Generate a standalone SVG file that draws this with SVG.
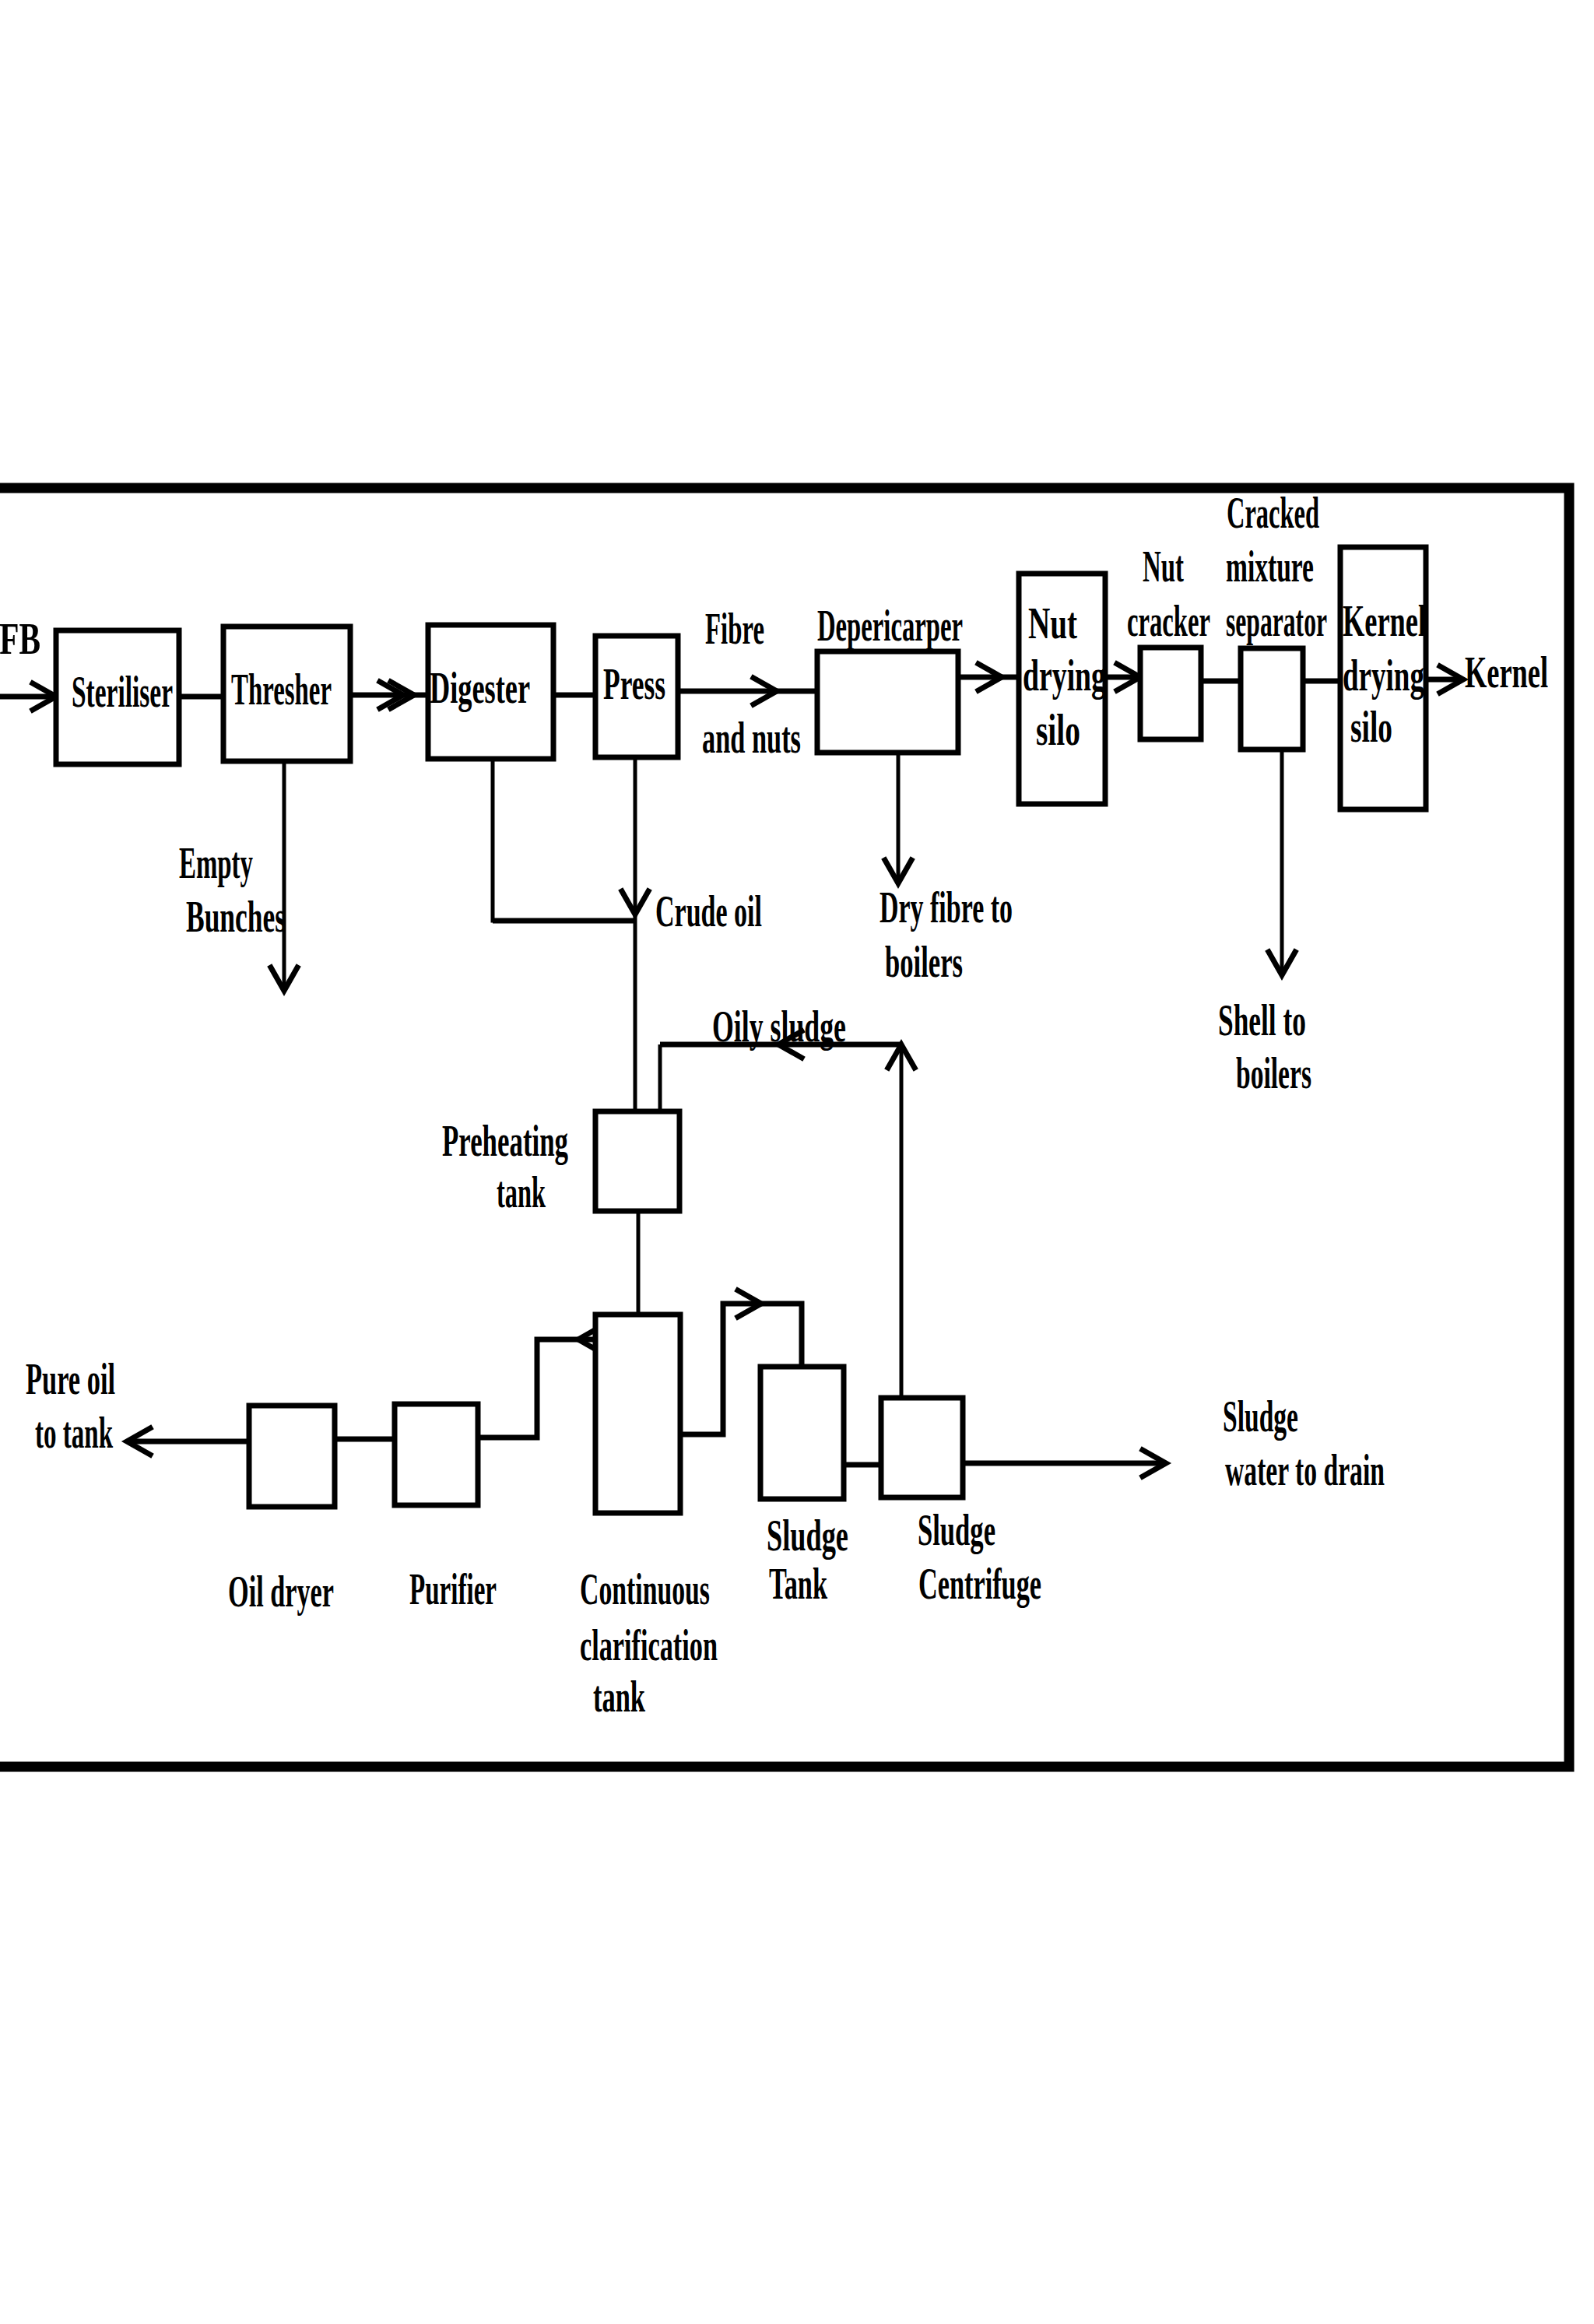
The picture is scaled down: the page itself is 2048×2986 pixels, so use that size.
<svg xmlns="http://www.w3.org/2000/svg" width="2048" height="2986" viewBox="0 0 2048 2986">
<style>
.bx{fill:#fff;stroke:#000;stroke-width:7}
.ln{fill:none;stroke:#000;stroke-width:7;stroke-linejoin:miter}
.vl{fill:none;stroke:#000;stroke-width:5}
.ah{fill:none;stroke:#000;stroke-width:7;stroke-linecap:square}
.bd{fill:none;stroke:#000;stroke-width:13}
text{font-family:"Liberation Serif","Times New Roman",serif;font-size:56px;font-weight:bold;fill:#000}
</style>
<defs>
<path id="ah" class="ah" d="M-30,-17 L0,0 L-30,17"/>
</defs>
<rect width="2048" height="2986" fill="#fff"/>
<path class="bd" d="M0,627 H2016 V2270 H0"/>

<g id="connectors">
<path class="ln" d="M0,895 H72"/><use href="#ah" transform="translate(72,895)"/>
<path class="ln" d="M230,895 H287"/>
<path class="ln" d="M450,893 H550"/><use href="#ah" transform="translate(532,893)"/><use href="#ah" transform="translate(518,893)"/>
<path class="ln" d="M711,893 H765"/>
<path class="ln" d="M871,888 H1050"/><use href="#ah" transform="translate(998,888)"/>
<path class="ln" d="M1231,870 H1309"/><use href="#ah" transform="translate(1287,870)"/>
<path class="ln" d="M1420,870 H1465"/><use href="#ah" transform="translate(1465,870)"/>
<path class="ln" d="M1543,875 H1594"/>
<path class="ln" d="M1674,875 H1722"/>
<path class="ln" d="M1832,873 H1880"/><use href="#ah" transform="translate(1880,873)"/>
<path class="vl" d="M365,978 V1273"/><use href="#ah" transform="translate(365,1273) rotate(90)"/>
<path class="vl" d="M633,975 V1183 H816"/><path class="ln" d="M633,1183 H816"/>
<path class="vl" d="M816,973 V1428"/><use href="#ah" transform="translate(816,1175) rotate(90)"/>
<path class="vl" d="M1154,967 V1135"/><use href="#ah" transform="translate(1154,1135) rotate(90)"/>
<path class="vl" d="M1647,963 V1253"/><use href="#ah" transform="translate(1647,1253) rotate(90)"/>
<path class="vl" d="M1158,1796 V1342"/><path class="ln" d="M1158,1342 H848"/><path class="vl" d="M848,1342 V1428"/>
<use href="#ah" transform="translate(1158,1342) rotate(-90)"/><use href="#ah" transform="translate(1000,1342) rotate(180)"/>
<path class="vl" d="M820,1556 V1689"/>
<path class="ln" d="M765,1721 H690 V1847 H614"/><use href="#ah" transform="translate(743,1721) rotate(180)"/>
<path class="ln" d="M507,1849 H430"/>
<path class="ln" d="M320,1852 H163"/><use href="#ah" transform="translate(163,1852) rotate(180)"/>
<path class="ln" d="M874,1843 H929 V1675 H1030 V1756"/><use href="#ah" transform="translate(978,1675)"/>
<path class="ln" d="M1084,1882 H1132"/>
<path class="ln" d="M1237,1880 H1498"/><use href="#ah" transform="translate(1498,1880)"/>
</g>

<g id="labels">
<text x="-26" y="840" textLength="78" lengthAdjust="spacingAndGlyphs">FFB</text>
<text x="906" y="827" textLength="76" lengthAdjust="spacingAndGlyphs">Fibre</text>
<text x="902" y="967" textLength="127" lengthAdjust="spacingAndGlyphs">and nuts</text>
<text x="230" y="1128" textLength="95" lengthAdjust="spacingAndGlyphs">Empty</text>
<text x="239" y="1197" textLength="128" lengthAdjust="spacingAndGlyphs">Bunches</text>
<text x="842" y="1190" textLength="137" lengthAdjust="spacingAndGlyphs">Crude oil</text>
<text x="1130" y="1185" textLength="171" lengthAdjust="spacingAndGlyphs">Dry fibre to</text>
<text x="1137" y="1255" textLength="100" lengthAdjust="spacingAndGlyphs">boilers</text>
<text x="1565" y="1330" textLength="113" lengthAdjust="spacingAndGlyphs">Shell to</text>
<text x="1588" y="1398" textLength="97" lengthAdjust="spacingAndGlyphs">boilers</text>
<text x="915" y="1338" textLength="172" lengthAdjust="spacingAndGlyphs">Oily sludge</text>
<text x="33" y="1791" textLength="115" lengthAdjust="spacingAndGlyphs">Pure oil</text>
<text x="45" y="1860" textLength="100" lengthAdjust="spacingAndGlyphs">to tank</text>
<text x="1571" y="1839" textLength="97" lengthAdjust="spacingAndGlyphs">Sludge</text>
<text x="1574" y="1908" textLength="205" lengthAdjust="spacingAndGlyphs">water to drain</text>
<text x="1882" y="883" textLength="107" lengthAdjust="spacingAndGlyphs">Kernel</text>
</g>

<g id="steriliser"><rect class="bx" x="72" y="810" width="158" height="172"/>
<text x="92" y="908" textLength="130" lengthAdjust="spacingAndGlyphs">Steriliser</text></g>
<g id="thresher"><rect class="bx" x="287" y="805" width="163" height="173"/>
<text x="297" y="905" textLength="129" lengthAdjust="spacingAndGlyphs">Thresher</text></g>
<g id="digester"><rect class="bx" x="550" y="803" width="161" height="172"/>
<text x="552" y="903" textLength="129" lengthAdjust="spacingAndGlyphs">Digester</text></g>
<g id="press"><rect class="bx" x="765" y="817" width="106" height="156"/>
<text x="775" y="898" textLength="80" lengthAdjust="spacingAndGlyphs">Press</text></g>
<g id="depericarper"><rect class="bx" x="1050" y="837" width="181" height="130"/>
<text x="1050" y="823" textLength="187" lengthAdjust="spacingAndGlyphs">Depericarper</text></g>
<g id="nut-drying-silo"><rect class="bx" x="1309" y="737" width="111" height="296"/>
<text x="1321" y="820" textLength="63" lengthAdjust="spacingAndGlyphs">Nut</text>
<text x="1314" y="887" textLength="107" lengthAdjust="spacingAndGlyphs">drying</text>
<text x="1331" y="957" textLength="57" lengthAdjust="spacingAndGlyphs">silo</text></g>
<g id="nut-cracker"><rect class="bx" x="1465" y="832" width="78" height="118"/>
<text x="1468" y="747" textLength="53" lengthAdjust="spacingAndGlyphs">Nut</text>
<text x="1448" y="817" textLength="107" lengthAdjust="spacingAndGlyphs">cracker</text></g>
<g id="separator"><rect class="bx" x="1594" y="833" width="80" height="130"/>
<text x="1576" y="678" textLength="119" lengthAdjust="spacingAndGlyphs">Cracked</text>
<text x="1575" y="747" textLength="113" lengthAdjust="spacingAndGlyphs">mixture</text>
<text x="1575" y="817" textLength="130" lengthAdjust="spacingAndGlyphs">separator</text></g>
<g id="kernel-drying-silo"><rect class="bx" x="1722" y="703" width="110" height="337"/>
<text x="1725" y="817" textLength="107" lengthAdjust="spacingAndGlyphs">Kernel</text>
<text x="1725" y="887" textLength="105" lengthAdjust="spacingAndGlyphs">drying</text>
<text x="1735" y="953" textLength="54" lengthAdjust="spacingAndGlyphs">silo</text></g>
<g id="preheating-tank"><rect class="bx" x="765" y="1428" width="108" height="128"/>
<text x="568" y="1485" textLength="162" lengthAdjust="spacingAndGlyphs">Preheating</text>
<text x="638" y="1551" textLength="63" lengthAdjust="spacingAndGlyphs">tank</text></g>
<g id="clarification-tank"><rect class="bx" x="765" y="1689" width="109" height="255"/>
<text x="745" y="2061" textLength="167" lengthAdjust="spacingAndGlyphs">Continuous</text>
<text x="745" y="2133" textLength="177" lengthAdjust="spacingAndGlyphs">clarification</text>
<text x="762" y="2199" textLength="67" lengthAdjust="spacingAndGlyphs">tank</text></g>
<g id="purifier"><rect class="bx" x="507" y="1804" width="107" height="130"/>
<text x="526" y="2061" textLength="112" lengthAdjust="spacingAndGlyphs">Purifier</text></g>
<g id="oil-dryer"><rect class="bx" x="320" y="1806" width="110" height="130"/>
<text x="293" y="2064" textLength="136" lengthAdjust="spacingAndGlyphs">Oil dryer</text></g>
<g id="sludge-tank"><rect class="bx" x="977" y="1756" width="107" height="170"/>
<text x="985" y="1992" textLength="105" lengthAdjust="spacingAndGlyphs">Sludge</text>
<text x="988" y="2054" textLength="75" lengthAdjust="spacingAndGlyphs">Tank</text></g>
<g id="sludge-centrifuge"><rect class="bx" x="1132" y="1796" width="105" height="128"/>
<text x="1179" y="1985" textLength="100" lengthAdjust="spacingAndGlyphs">Sludge</text>
<text x="1180" y="2054" textLength="158" lengthAdjust="spacingAndGlyphs">Centrifuge</text></g>
</svg>
